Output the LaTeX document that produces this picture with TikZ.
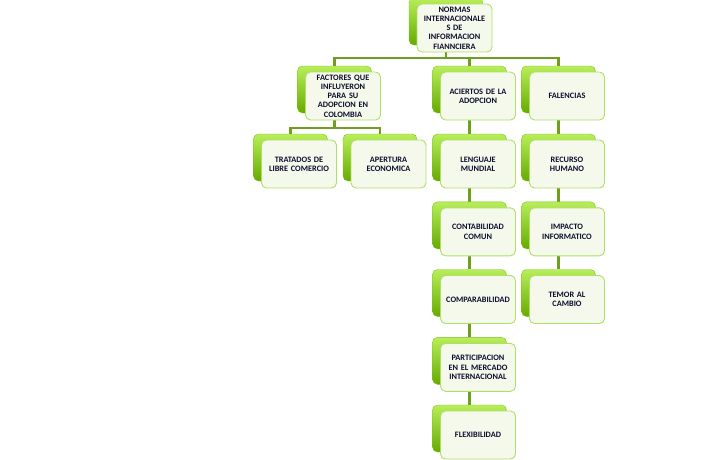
\documentclass[tikz,border=0pt]{standalone}
\usepackage{fontspec}
\setmainfont{Carlito}
\usetikzlibrary{backgrounds}
\definecolor{vertclair}{HTML}{B8EE5A}
\definecolor{vertfonce}{HTML}{66AA00}
\definecolor{vertbord}{HTML}{7CC21E}
\definecolor{cartefond}{HTML}{F4F9EC}
\definecolor{cartebord}{HTML}{AEDF66}
\definecolor{lienvert}{HTML}{6E9F1E}
\definecolor{texte}{HTML}{0E0E2E}
\begin{document}
\begin{tikzpicture}[x=1pt, y=-1pt,
    fond/.style={draw=vertbord, top color=vertclair, bottom color=vertfonce, rounded corners=5pt,
                 minimum width=74pt, minimum height=47pt, inner sep=0pt},
    carte/.style={draw=cartebord, fill=cartefond, line width=0.9pt, rounded corners=5pt,
                  minimum width=75pt, minimum height=48pt, text width=74pt, inner sep=0.5pt,
                  align=center, font=\fontsize{8.3}{9.3}\selectfont\bfseries, text=texte},
    lien/.style={draw=lienvert, line width=2.4pt}]
    \useasboundingbox (0,0) rectangle (723,459);

    % Racine
    \node[fond] (raiz-b) at (446, 21.5) {};
    \node[carte] (raiz) at (454.5, 28) {NORMAS\\INTERNACIONALE\\S DE\\INFORMACION\\FIANNCIERA};

    % Premier niveau
    \node[fond] (factores-b) at (334.5, 89.5) {};
    \node[carte] (factores) at (343, 96) {FACTORES QUE\\INFLUYERON\\PARA SU\\ADOPCION EN\\COLOMBIA};
    \node[fond] (aciertos-b) at (469.5, 89.5) {};
    \node[carte] (aciertos) at (478, 96) {ACIERTOS DE LA\\ADOPCION};
    \node[fond] (falencias-b) at (558.5, 89.5) {};
    \node[carte] (falencias) at (567, 96) {FALENCIAS};

    % Sous FACTORES
    \node[fond] (tratados-b) at (290.5, 157.5) {};
    \node[carte] (tratados) at (299, 164) {TRATADOS DE\\LIBRE COMERCIO};
    \node[fond] (apertura-b) at (380, 157.5) {};
    \node[carte] (apertura) at (388.5, 164) {APERTURA\\ECONOMICA};

    % Colonne ACIERTOS
    \node[fond] (lenguaje-b) at (469.5, 157.5) {};
    \node[carte] (lenguaje) at (478, 164) {LENGUAJE\\MUNDIAL};
    \node[fond] (contabilidad-b) at (469.5, 225.3) {};
    \node[carte] (contabilidad) at (478, 231.8) {CONTABILIDAD\\COMUN};
    \node[fond] (comparabilidad-b) at (469.5, 293) {};
    \node[carte] (comparabilidad) at (478, 299.5) {COMPARABILIDAD};
    \node[fond] (participacion-b) at (469.5, 360.8) {};
    \node[carte] (participacion) at (478, 367.3) {PARTICIPACION\\EN EL MERCADO\\INTERNACIONAL};
    \node[fond] (flexibilidad-b) at (469.5, 428.5) {};
    \node[carte] (flexibilidad) at (478, 435) {FLEXIBILIDAD};

    % Colonne FALENCIAS
    \node[fond] (recurso-b) at (558.5, 157.5) {};
    \node[carte] (recurso) at (567, 164) {RECURSO\\HUMANO};
    \node[fond] (impacto-b) at (558.5, 225.3) {};
    \node[carte] (impacto) at (567, 231.8) {IMPACTO\\INFORMATICO};
    \node[fond] (temor-b) at (558.5, 293) {};
    \node[carte] (temor) at (567, 299.5) {TEMOR AL\\CAMBIO};

    % Liens (derrière les boîtes)
    \begin{pgfonlayer}{background}
        \draw[lien] (raiz-b.south) -- ++(0,13) -| (factores-b.north);
        \draw[lien] (raiz-b.south) -- ++(0,13) -| (aciertos-b.north);
        \draw[lien] (raiz-b.south) -- ++(0,13) -| (falencias-b.north);
        \draw[lien] (factores-b.south) -- ++(0,15) -| (tratados-b.north);
        \draw[lien] (factores-b.south) -- ++(0,15) -| (apertura-b.north);
        \draw[lien] (aciertos-b) -- (lenguaje-b);
        \draw[lien] (lenguaje-b) -- (contabilidad-b);
        \draw[lien] (contabilidad-b) -- (comparabilidad-b);
        \draw[lien] (comparabilidad-b) -- (participacion-b);
        \draw[lien] (participacion-b) -- (flexibilidad-b);
        \draw[lien] (falencias-b) -- (recurso-b);
        \draw[lien] (recurso-b) -- (impacto-b);
        \draw[lien] (impacto-b) -- (temor-b);
    \end{pgfonlayer}
\end{tikzpicture}
\end{document}
